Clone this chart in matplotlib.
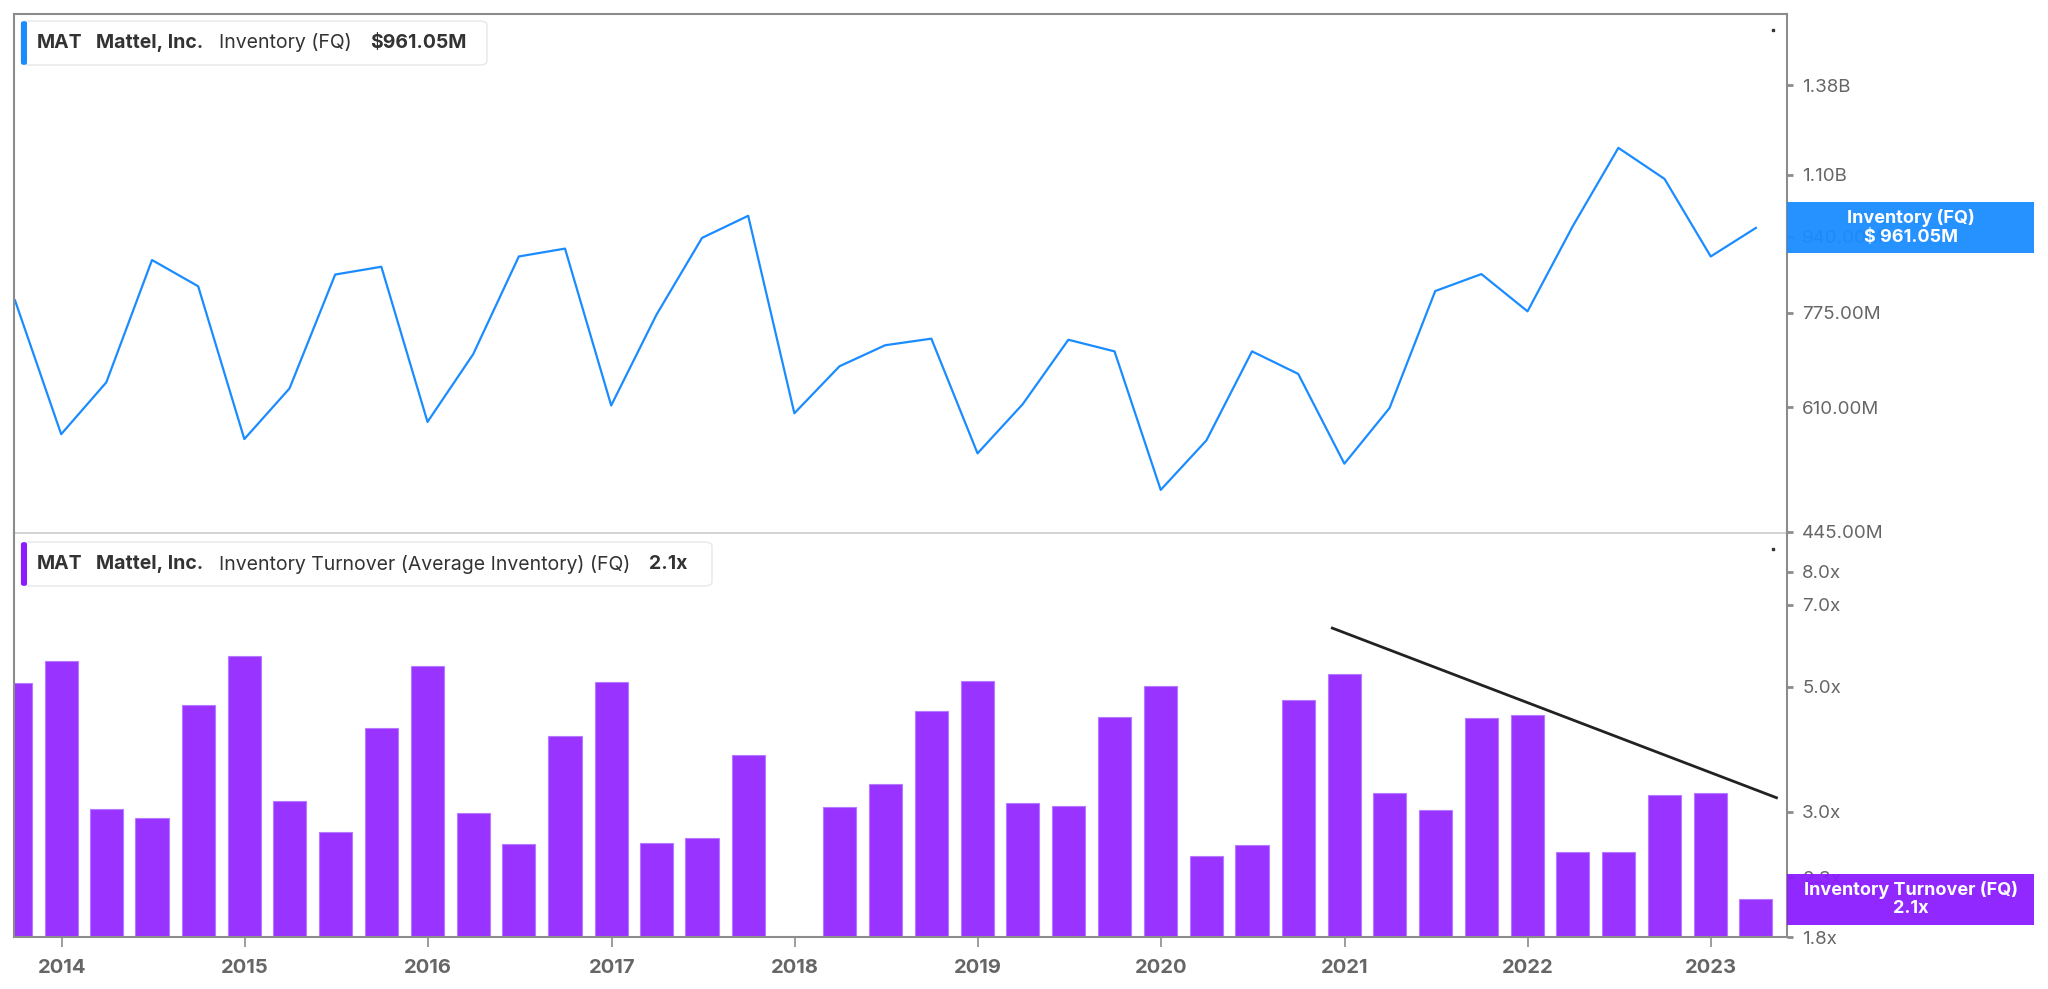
import numpy as np
import pandas as pd
import matplotlib
matplotlib.use("Agg")
import matplotlib.pyplot as plt
import matplotlib.dates as mdates
from matplotlib.patches import FancyBboxPatch, Rectangle
from matplotlib.ticker import FixedLocator, NullLocator, FixedFormatter

plt.rcParams['font.family'] = ['Inter', 'DejaVu Sans']

# quarter-end dates, Sep 2013 .. Mar 2023
quarters = pd.date_range('2013-09-30', periods=39, freq='QE')

# Inventory (FQ), millions USD
inventory = [800, 570, 650, 886, 829, 563, 640, 854, 871, 588,
             698, 894, 912, 613, 771, 937, 991, 601, 677, 714,
             726, 543, 615, 724, 703, 495, 561, 703, 664, 529,
             609, 819, 855, 778, 965, 1177, 1088, 894, 961.05]

# Inventory turnover (average inventory) (FQ), x
turnover = [5.08, 5.56, 3.04, 2.93, 4.64, 5.68, 3.14, 2.76, 4.23, 5.44,
            2.99, 2.63, 4.10, 5.10, 2.64, 2.70, 3.78, np.nan, 3.06, 3.36,
            4.54, 5.13, 3.11, 3.07, 4.42, 5.02, 2.51, 2.62, 4.74, 5.27,
            3.24, 3.02, 4.40, 4.46, 2.55, 2.55, 3.22, 3.24, 2.10]

inv_ticks = [445e6, 610e6, 775e6, 940e6, 1.10e9, 1.38e9]
inv_labels = ['445.00M', '610.00M', '775.00M', '940.00M', '1.10B', '1.38B']
turn_ticks = [1.8, 2.3, 3.0, 5.0, 7.0, 8.0]
turn_labels = ['1.8x', '2.3x', '3.0x', '5.0x', '7.0x', '8.0x']

# hand-drawn trend line on the turnover panel
trend_dates = ['2020-12-07', '2023-05-11']
trend_values = [6.36, 3.18]

W, H = 2048, 989
BLUE = '#1a8cff'
PURPLE_BAR = '#9933ff'
PURPLE_BOX = '#8a1cff'
GRAY = '#666666'
SPINE = '#8c8c8c'


def fx(px):
    return px / W


def fy(py):
    return 1 - py / H


fig = plt.figure(figsize=(W / 100, H / 100), dpi=100)
L, R, T, MID, B = 14, 1787, 14, 533, 937
ax1 = fig.add_axes([fx(L), fy(MID), fx(R - L), (MID - T) / H])
ax2 = fig.add_axes([fx(L), fy(B), fx(R - L), (B - MID) / H])

x = quarters.to_pydatetime()
xmin = pd.Timestamp('2013-09-28')
xmax = pd.Timestamp('2023-06-01')

# top panel: inventory line
ax1.plot(x, np.array(inventory) * 1e6, color=BLUE, lw=1.6)
ax1.set_yscale('log')
ax1.set_ylim(443.8e6, 1652e6)
ax1.set_xlim(xmin, xmax)

# bottom panel: turnover bars
ax2.bar(x, np.array(turnover) - 1.0, bottom=1.0, width=66, color=PURPLE_BAR,
        edgecolor='#b57aff', linewidth=0.8)
ax2.plot(pd.to_datetime(trend_dates), trend_values, color='#222222', lw=2)
ax2.set_yscale('log')
ax2.set_ylim(1.8, 9.38)
ax2.set_xlim(xmin, xmax)

for ax, ticks, labels in [(ax1, inv_ticks, inv_labels), (ax2, turn_ticks, turn_labels)]:
    ax.yaxis.tick_right()
    ax.yaxis.set_major_locator(FixedLocator(ticks))
    ax.yaxis.set_major_formatter(FixedFormatter(labels))
    ax.yaxis.set_minor_locator(NullLocator())
    ax.tick_params(axis='y', which='major', direction='out', length=4, width=2,
                   color=SPINE, labelcolor=GRAY, labelsize=13.5, pad=7)
    ax.spines['right'].set_color(SPINE)
    ax.spines['right'].set_linewidth(1.5)
    ax.spines['left'].set_color(SPINE)
    ax.spines['left'].set_linewidth(1.5)
    ax.set_facecolor('none')
    # tiny marker dot near the top-right corner of each pane
    ax.plot([0.992], [0.97 if ax is ax1 else 0.96], transform=ax.transAxes,
            marker='s', ms=1.5, color='#333333', ls='none')

ax1.spines['top'].set_color(SPINE)
ax1.spines['top'].set_linewidth(1.5)
ax1.spines['bottom'].set_color('#cccccc')
ax1.spines['bottom'].set_linewidth(1.2)
ax1.tick_params(axis='x', which='both', bottom=False, labelbottom=False)
ax1.xaxis.set_minor_locator(NullLocator())

ax2.spines['top'].set_visible(False)
ax2.spines['bottom'].set_color(SPINE)
ax2.spines['bottom'].set_linewidth(1.5)
ax2.xaxis.set_major_locator(mdates.YearLocator())
ax2.xaxis.set_major_formatter(mdates.DateFormatter('%Y'))
ax2.xaxis.set_minor_locator(NullLocator())
ax2.tick_params(axis='x', direction='out', length=7, width=1.2, color=SPINE,
                labelcolor=GRAY, labelsize=14.5, pad=9)
for lab in ax2.get_xticklabels():
    lab.set_fontweight('bold')


# legend boxes top-left of each panel
def legend_box(y0, y1, x1, color, parts):
    fig.add_artist(FancyBboxPatch((fx(21), fy(y1)), fx(x1 - 21), (y1 - y0) / H,
                                  boxstyle='round,pad=0,rounding_size=0.004',
                                  transform=fig.transFigure, facecolor='white',
                                  edgecolor='#e8e8e8', lw=1.0, zorder=5))
    fig.add_artist(FancyBboxPatch((fx(21), fy(y1)), fx(6), (y1 - y0) / H,
                                  boxstyle='round,pad=0,rounding_size=0.002',
                                  transform=fig.transFigure, facecolor=color,
                                  edgecolor='none', zorder=6))
    yc = fy((y0 + y1) / 2)
    for px, txt, w in parts:
        fig.text(fx(px), yc, txt, fontsize=14, color='#333333', fontweight=w,
                 va='center', ha='left', zorder=7)


legend_box(21, 65, 487, BLUE, [(37, 'MAT', 'bold'), (96, 'Mattel, Inc.', 'bold'),
                               (219, 'Inventory (FQ)', 'normal'), (370, '$961.05M', 'bold')])
legend_box(542, 586, 712, PURPLE_BOX, [(37, 'MAT', 'bold'), (96, 'Mattel, Inc.', 'bold'),
                                       (219, 'Inventory Turnover (Average Inventory) (FQ)', 'normal'),
                                       (649, '2.1x', 'bold')])


# value boxes on the right axis at the last value
def value_box(ax, value, color, line1, line2):
    fig.canvas.draw()
    _, ydisp = ax.transData.transform((mdates.date2num(x[-1]), value))
    yc = ydisp / fig.dpi / fig.get_figheight()
    h = 51 / H
    fig.add_artist(Rectangle((fx(R), yc - h / 2), fx(2034 - R), h, transform=fig.transFigure,
                             facecolor=color, edgecolor='none', alpha=0.95, zorder=8))
    xc = fx((R + 2034) / 2)
    fig.text(xc, yc + 9.5 / H, line1, color='white', fontsize=13, fontweight='bold',
             ha='center', va='center', zorder=9)
    fig.text(xc, yc - 9.5 / H, line2, color='white', fontsize=13, fontweight='bold',
             ha='center', va='center', zorder=9)


value_box(ax1, inventory[-1] * 1e6, BLUE, 'Inventory (FQ)', '$ 961.05M')
value_box(ax2, turnover[-1], PURPLE_BOX, 'Inventory Turnover (FQ)', '2.1x')

fig.savefig('out.png', dpi=100, facecolor='white')
